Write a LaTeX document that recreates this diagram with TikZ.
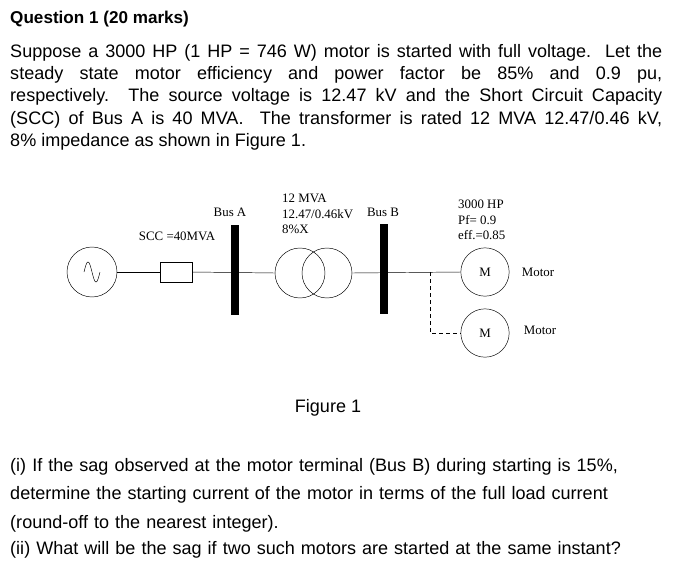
\documentclass[tikz,border=0pt]{standalone}
\usepackage{fontspec}
\setmainfont{Liberation Sans}
\newfontfamily\figfont{Liberation Serif}
\usetikzlibrary{positioning}
\tikzset{
  lbl/.style={font=\figfont\fontsize{11}{13}\selectfont, inner sep=0pt},
  mach/.style={draw, circle, minimum size=1.45cm, inner sep=0pt, font=\figfont\fontsize{11}{13}\selectfont},
  bus/.style={fill=black, minimum width=0.24cm, minimum height=2.7cm, inner sep=0pt},
  para/.style={inner sep=0pt, anchor=north west, text width=19.56cm, font=\fontsize{15.4}{19}\selectfont},
}
\begin{document}
\begin{tikzpicture}[x=0.03cm, y=-0.03cm]
      \useasboundingbox (0,0) rectangle (673,580);

      % question text
      \node [inner sep=0pt, anchor=base west, font=\bfseries\fontsize{14.6}{17}\selectfont] (title) at (10,23) {Question 1 (20 marks)};
      \node [para, align=justify] (intro) at (10,44) {Suppose a 3000 HP (1 HP = 746 W) motor is started with full voltage.\ \ Let the\linebreak steady state motor efficiency and power factor be 85\% and 0.9 pu,\linebreak respectively. The source voltage is 12.47 kV and the Short Circuit Capacity\linebreak (SCC) of Bus A is 40 MVA.\ \ The transformer is rated 12 MVA 12.47/0.46 kV,\linebreak 8\% impedance as shown in Figure 1.};

      % one-line diagram
      \node [mach, minimum size=1.5cm] (gen) at (92,272) {};
      \draw [domain=0:360, samples=40, smooth] plot ({84+\x/360*16}, {272-10*sin(\x)});
      \node [draw, minimum width=0.96cm, minimum height=0.6cm, inner sep=0pt] (imp) at (176,272) {};
      \node [bus] (busA) at (235,270) {};
      \node [mach, minimum size=1.5cm] (trA) at (300,273) {};
      \node [mach, minimum size=1.5cm] (trB) at (327,273) {};
      \node [bus] (busB) at (384,269) {};
      \node [mach] (mot1) at (485,272) {M};
      \node [mach] (mot2) at (485,333) {M};
      \coordinate (tap) at (430,272);

      \draw (gen) -- (imp);
      \draw (imp.east) -- (trA.west);
      \draw (trB.east) -- (mot1.west);
      \draw [dashed] (tap) |- (mot2.west);

      \node [lbl] (lblA) at (230,212) {Bus A};
      \node [lbl] (lblB) at (383,212) {Bus B};
      \node [lbl] (scc) at (177,236) {SCC =40MVA};
      \node [lbl, anchor=north west, align=left] (trdata) at (282,194) {12 MVA\\12.47/0.46kV\\8\%X};
      \node [lbl, anchor=north west, align=left] (motdata) at (458,200) {3000 HP\\Pf= 0.9\\eff.=0.85};
      \node [lbl] (lblM1) at (538,272) {Motor};
      \node [lbl] (lblM2) at (540,330) {Motor};

      \node [inner sep=0pt, font=\fontsize{15.4}{17}\selectfont] (fig) at (328,408) {Figure 1};

      % questions
      \node [para, text width=19.8cm, font=\fontsize{15.4}{24.4}\selectfont] (q1) at (10,458) {(i) If the sag observed at the motor terminal (Bus B) during starting is 15\%,\\determine the starting current of the motor in terms of the full load current\\(round-off to the nearest integer).};
      \node [para, text width=19.8cm] (q2) at (10,541) {(ii) What will be the sag if two such motors are started at the same instant?};
\end{tikzpicture}
\end{document}
